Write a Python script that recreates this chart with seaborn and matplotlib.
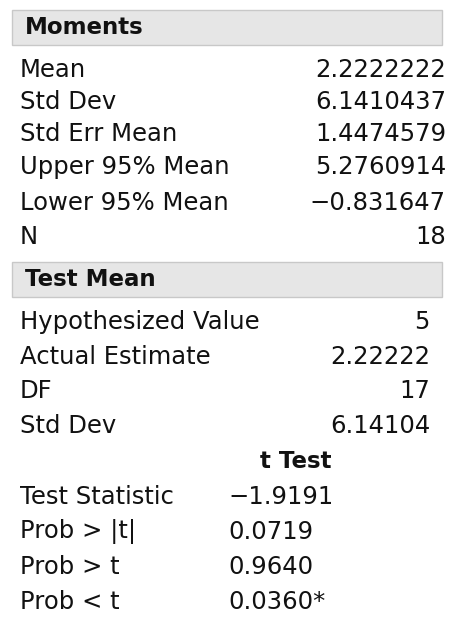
import matplotlib
matplotlib.use("Agg")
import matplotlib.pyplot as plt
import seaborn as sns
from matplotlib.patches import Rectangle

sns.set_theme(style="white")
plt.rcParams['font.family'] = ['DejaVu Sans']

moment_labels = ["Mean", "Std Dev", "Std Err Mean", "Upper 95% Mean", "Lower 95% Mean", "N"]
moment_values = ["2.2222222", "6.1410437", "1.4474579", "5.2760914", "\u22120.831647", "18"]
test_labels = ["Hypothesized Value", "Actual Estimate", "DF", "Std Dev"]
test_values = ["5", "2.22222", "17", "6.14104"]
t_labels = ["Test Statistic", "Prob > |t|", "Prob > t", "Prob < t"]
t_values = ["\u22121.9191", "0.0719", "0.9640", "0.0360*"]

W, H = 475, 619
fig = plt.figure(figsize=(4.75, 6.19), dpi=100)
ax = fig.add_axes([0, 0, 1, 1])
ax.set_xlim(0, W); ax.set_ylim(H, 0); ax.axis("off")
fs = 17.5
hfs = 16.5

def header(y0, y1, text):
    ax.add_patch(Rectangle((12, y0), 430, y1 - y0, facecolor="#e6e6e6", edgecolor="#c8c8c8", lw=1))
    ax.text(25, (y0 + y1) / 2, text, fontsize=hfs, fontweight="bold", va="center", color="#111")

header(10, 45, "Moments")
ys = [70, 102, 134, 167, 203, 237]
for y, l, v in zip(ys, moment_labels, moment_values):
    ax.text(20, y, l, fontsize=fs, va="center", color="#111")
    ax.text(446, y, v, fontsize=fs, va="center", ha="right", color="#111")

header(262, 297, "Test Mean")
ys = [322, 357, 391, 426]
for y, l, v in zip(ys, test_labels, test_values):
    ax.text(20, y, l, fontsize=fs, va="center", color="#111")
    ax.text(430, y, v, fontsize=fs, va="center", ha="right", color="#111")

ax.text(296, 461, "t Test", fontsize=hfs, fontweight="bold", va="center", ha="center", color="#111")
ys = [497, 532, 567, 602]
for y, l, v in zip(ys, t_labels, t_values):
    ax.text(20, y, l, fontsize=fs, va="center", color="#111")
    ax.text(228, y, v, fontsize=fs, va="center", ha="left", color="#111")

fig.savefig("out.png", dpi=100, facecolor="white")
